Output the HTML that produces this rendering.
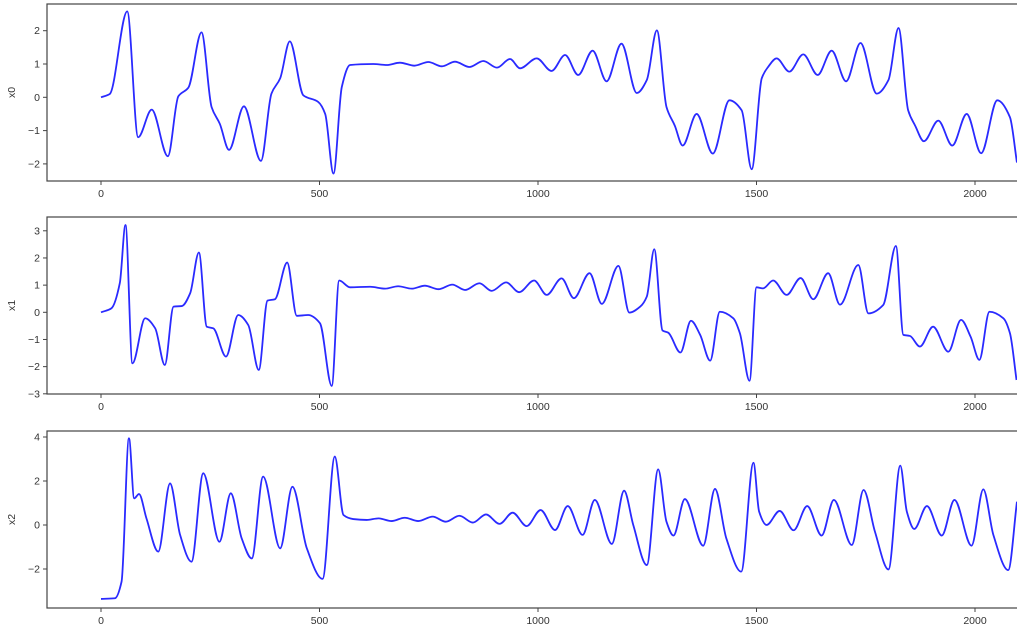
<!DOCTYPE html>
<html><head><meta charset="utf-8"><style>
html,body{margin:0;padding:0;background:#fff;overflow:hidden}
svg{display:block;font-family:"Liberation Sans",sans-serif}
</style></head><body>
<svg id="chart" width="1017" height="636" viewBox="0 0 1017 636" xmlns="http://www.w3.org/2000/svg"></svg>
<script>
const xTicks = [0, 500, 1000, 1500, 2000];
const yTicks0 = [-2, -1, 0, 1, 2];
const yTicks1 = [-3, -2, -1, 0, 1, 2, 3];
const yTicks2 = [-2, 0, 2, 4];
const seriesNames = ["x0", "x1", "x2"];
const t0 = [0,20,60,85,116,153,177,200,230,253,272,293,327,366,390,410,432,463,497,513,532,551,570,623,654,684,717,749,780,810,843,875,906,936,959,997,1031,1062,1092,1125,1157,1191,1226,1249,1272,1294,1313,1331,1363,1400,1438,1466,1489,1512,1527,1546,1575,1607,1640,1672,1705,1738,1775,1802,1825,1847,1863,1883,1916,1948,1981,2014,2051,2080,2096];
const v0 = [0,0.1,2.58,-1.2,-0.37,-1.77,0.03,0.29,1.95,-0.29,-0.8,-1.58,-0.27,-1.91,0.11,0.57,1.68,0.06,-0.14,-0.5,-2.29,0.31,0.97,1.0,0.97,1.04,0.95,1.06,0.93,1.07,0.91,1.09,0.89,1.15,0.87,1.17,0.79,1.27,0.67,1.40,0.48,1.61,0.13,0.52,2.01,-0.29,-0.85,-1.45,-0.5,-1.69,-0.09,-0.39,-2.16,0.57,0.92,1.17,0.77,1.29,0.67,1.40,0.48,1.63,0.11,0.52,2.08,-0.39,-0.85,-1.32,-0.70,-1.45,-0.5,-1.68,-0.09,-0.6,-1.96];
const t1 = [0,24,43,56,72,101,124,146,166,185,204,224,242,257,286,314,337,361,381,398,426,448,474,501,528,545,570,616,650,680,711,741,772,804,833,866,894,927,957,991,1020,1054,1082,1118,1146,1184,1209,1234,1249,1266,1285,1298,1326,1350,1371,1394,1416,1447,1462,1484,1500,1515,1538,1569,1601,1630,1664,1691,1733,1756,1790,1819,1836,1851,1874,1904,1939,1968,1990,2010,2033,2065,2080,2095];
const v1 = [0,0.15,1.07,3.21,-1.88,-0.22,-0.59,-1.94,0.21,0.23,0.70,2.20,-0.53,-0.59,-1.63,-0.10,-0.47,-2.12,0.43,0.48,1.83,-0.13,-0.10,-0.40,-2.71,1.17,0.92,0.94,0.87,0.96,0.87,0.98,0.85,1.02,0.82,1.07,0.79,1.10,0.74,1.17,0.64,1.25,0.52,1.44,0.31,1.71,-0.01,0.21,0.58,2.32,-0.67,-0.75,-1.48,-0.31,-0.83,-1.78,0.02,-0.22,-0.77,-2.52,0.92,0.88,1.17,0.64,1.26,0.48,1.44,0.28,1.74,-0.04,0.27,2.44,-0.83,-0.87,-1.26,-0.53,-1.45,-0.28,-0.90,-1.75,0.02,-0.22,-0.77,-2.49];
const t2 = [0,32,47,64,76,87,104,131,158,181,207,234,271,297,322,345,371,410,438,471,507,535,555,577,608,635,665,695,726,759,789,820,851,881,912,942,974,1006,1039,1068,1102,1130,1169,1197,1218,1249,1275,1294,1310,1336,1378,1405,1431,1465,1493,1506,1523,1553,1585,1616,1649,1677,1718,1745,1771,1802,1829,1844,1861,1890,1924,1953,1992,2019,2042,2076,2096];
const v2 = [-3.36,-3.33,-2.58,3.94,1.21,1.41,0.30,-1.21,1.89,-0.45,-1.67,2.35,-0.76,1.44,-0.61,-1.52,2.20,-1.06,1.74,-1.06,-2.45,3.11,0.45,0.27,0.23,0.30,0.18,0.33,0.18,0.38,0.15,0.42,0.11,0.48,0.05,0.56,-0.05,0.68,-0.23,0.86,-0.45,1.14,-0.86,1.56,0.0,-1.82,2.53,0.15,-0.48,1.18,-0.94,1.64,-0.61,-2.12,2.83,0.61,0.0,0.64,-0.24,0.86,-0.48,1.14,-0.91,1.59,-0.30,-2.02,2.70,0.61,-0.18,0.86,-0.48,1.14,-0.94,1.62,-0.45,-2.05,1.06];

const NS = "http://www.w3.org/2000/svg";
const svg = document.getElementById('chart');
const AX_L = 47, AX_R = 1030;
function xScale(t){ return 101 + 0.437 * t; }
const panels = [
  {top:4, bottom:181, zero:97.3, k:33.3, ticks:yTicks0, t:t0, v:v0, name:seriesNames[0]},
  {top:217, bottom:394, zero:312.3, k:27.17, ticks:yTicks1, t:t1, v:v1, name:seriesNames[1]},
  {top:431, bottom:608, zero:525, k:22, ticks:yTicks2, t:t2, v:v2, name:seriesNames[2]}
];
function mk(tag, attrs){ const e=document.createElementNS(NS,tag); for(const k in attrs) e.setAttribute(k, attrs[k]); return e; }
function monoPath(pts){
  const n = pts.length, dx=[], s=[], m=[];
  for(let i=0;i<n-1;i++){ dx[i]=pts[i+1][0]-pts[i][0]; s[i]=(pts[i+1][1]-pts[i][1])/dx[i]; }
  m[0]=s[0]; m[n-1]=s[n-2];
  for(let i=1;i<n-1;i++){
    if(s[i-1]*s[i]<=0) m[i]=0;
    else { const w1=2*dx[i]+dx[i-1], w2=dx[i]+2*dx[i-1]; m[i]=(w1+w2)/(w1/s[i-1]+w2/s[i]); }
  }
  let d = "M"+pts[0][0].toFixed(2)+","+pts[0][1].toFixed(2);
  for(let i=0;i<n-1;i++){
    const h=dx[i]/3;
    d += " C"+(pts[i][0]+h).toFixed(2)+","+(pts[i][1]+m[i]*h).toFixed(2)+" "+(pts[i+1][0]-h).toFixed(2)+","+(pts[i+1][1]-m[i+1]*h).toFixed(2)+" "+pts[i+1][0].toFixed(2)+","+pts[i+1][1].toFixed(2);
  }
  return d;
}
panels.forEach((p, idx) => {
  const yScale = v => p.zero - p.k * v;
  const g = mk('g', {});
  
  
  svg.appendChild(g);
  const frame = mk('rect', {x:AX_L, y:p.top, width:AX_R-AX_L, height:p.bottom-p.top, fill:'none', stroke:'#444', 'stroke-width':1.2});
  
  
  g.appendChild(frame);
  xTicks.forEach(t => {
    const x = xScale(t);
    const tk = mk('line', {x1:x, x2:x, y1:p.bottom, y2:p.bottom+4, stroke:'#444', 'stroke-width':1});
    
    
    g.appendChild(tk);
    const tx = mk('text', {x:x, y:p.bottom+16, 'font-size':10.5, fill:'#333', 'text-anchor':'middle'});
    tx.textContent = t;
    
    
    g.appendChild(tx);
  });
  p.ticks.forEach(v => {
    const y = yScale(v);
    const tk = mk('line', {x1:AX_L-4, x2:AX_L, y1:y, y2:y, stroke:'#444', 'stroke-width':1});
    
    
    g.appendChild(tk);
    const tx = mk('text', {x:AX_L-7, y:y+3.5, 'font-size':10.5, fill:'#333', 'text-anchor':'end'});
    tx.textContent = v < 0 ? '\u2212' + Math.abs(v) : v;
    
    
    g.appendChild(tx);
  });
  const cy = (p.top + p.bottom) / 2;
  const yl = mk('text', {x:15, y:cy, 'font-size':10.5, fill:'#333', 'text-anchor':'middle', transform:'rotate(-90 15 '+cy+')'});
  yl.textContent = p.name;
  
  
  g.appendChild(yl);
  const pts = p.t.map((t,i) => [xScale(t), yScale(p.v[i])]);
  const line = mk('path', {d:monoPath(pts), fill:'none', stroke:'#2a2aff', 'stroke-width':1.8, 'stroke-linejoin':'round'});
  
  
  g.appendChild(line);
});
</script>
</body></html>
